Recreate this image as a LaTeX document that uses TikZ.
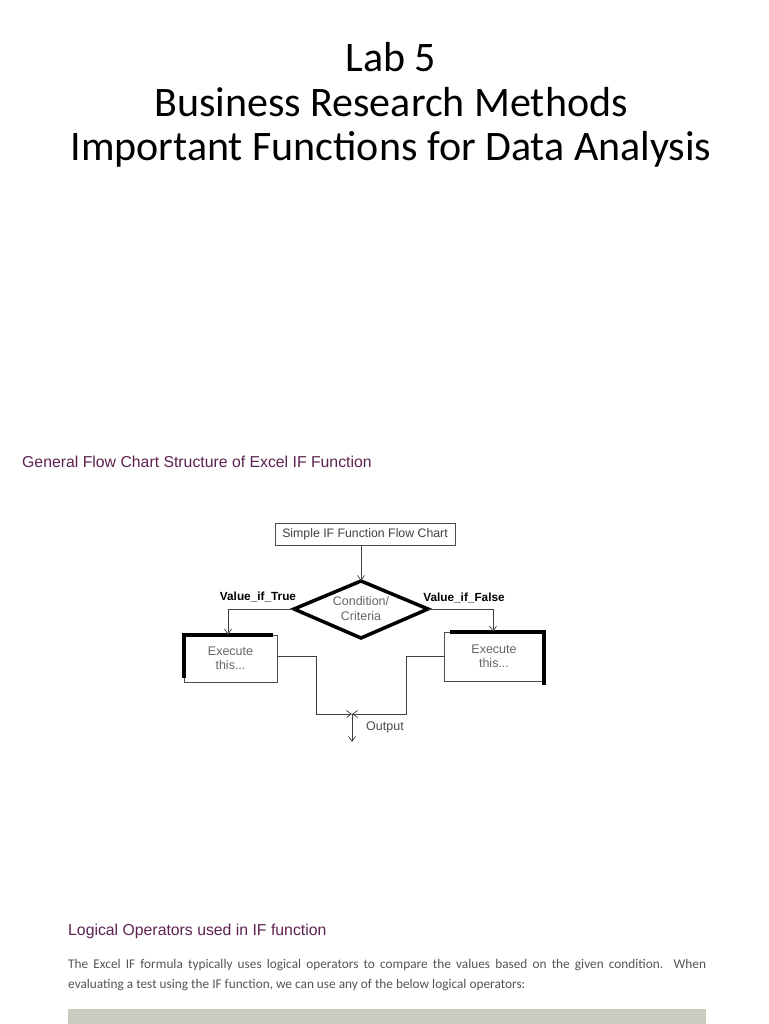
\documentclass[tikz,border=0pt]{standalone}
\usepackage{fontspec}
\setmainfont{Carlito}
\newfontfamily\arial{Liberation Sans}
\usetikzlibrary{arrows.meta}
\definecolor{plum}{HTML}{5E2250}
\definecolor{txtgray}{HTML}{555555}
\definecolor{band}{HTML}{C8CCBF}
\tikzset{
  title/.style={font=\fontsize{42}{48}\selectfont, anchor=center},
  thin/.style={draw=black!75, line width=0.7pt},
  arr/.style={thin, -{Straight Barb[length=5pt,width=7pt]}},
  box/.style={draw=black!70, line width=0.7pt, fill=white, font=\arial\fontsize{12.5}{14}\selectfont, text=black!60, align=center},
  lbl/.style={font=\arial\bfseries\fontsize{11.8}{13}\selectfont},
}
\begin{document}
\begin{tikzpicture}[x=1pt,y=-1pt]
\useasboundingbox (0,0) rectangle (768,1024);
\fill[white] (0,0) rectangle (768,1024);
\node[title] (t1) at (391,57) {Lab 5};
\node[title] (t2) at (391,102) {Business Research Methods};
\node[title] (t3) at (391,149) {Important Functions for Data Analysis};
\node[anchor=west, text=plum, font=\arial\fontsize{15.8}{18}\selectfont, inner sep=0] (h1) at (22,462) {General Flow Chart Structure of Excel IF Function};
% flowchart
\node[box, minimum width=180pt, minimum height=22pt, inner sep=0, text=black!75, font=\arial\fontsize{12.3}{14}\selectfont] (top) at (365,534) {Simple IF Function Flow Chart};
\coordinate (dt) at (361,581);
\coordinate (dl) at (294,609);
\coordinate (dr) at (428,609);
\coordinate (db) at (361,638);
\draw[line width=3.5pt, line join=miter, fill=white] (dt) -- (dr) -- (db) -- (dl) -- cycle;
\node[font=\arial\fontsize{12.5}{15}\selectfont, text=black!60, align=center] (dc) at (361,609) {Condition/\\Criteria};
\draw[arr] (top.south -| dt) -- (dt);
\node[box, minimum width=93pt, minimum height=47pt, inner sep=0] (lb) at (230.5,658.5) {Execute\\this...};
\node[box, minimum width=100pt, minimum height=49pt, inner sep=0] (rb) at (494,656.5) {Execute\\this...};
\draw[line width=4pt] (lb.south west) ++(0,-4) -- (lb.north west) -- ([xshift=-4pt]lb.north east);
\draw[line width=4pt] ([xshift=6pt]rb.north west) -- (rb.north east) -- ([yshift=-4pt]rb.south east);
\node[lbl, anchor=center] (vt) at (258,597) {Value\_if\_True};
\node[lbl, anchor=center] (vf) at (464,598) {Value\_if\_False};
\draw[arr] (dl) -| (lb.north -| 228,0);
\draw[arr] (dr) -| (rb.north -| 493,0);
\coordinate (j) at (352,714);
\draw[arr] (lb.east |- 0,656) -| (316,714) -- (j);
\draw[arr] (rb.west |- 0,656) -| (406,714) -- (j);
\coordinate (oe) at (352,742);
\draw[arr] (j) -- (oe);
\node[anchor=west, font=\arial\fontsize{12.5}{14}\selectfont, text=black!70, inner sep=0] (out) at (366,727) {Output};
% bottom
\node[anchor=west, text=plum, font=\arial\fontsize{15.8}{18}\selectfont, inner sep=0] (h2) at (68,931) {Logical Operators used in IF function};
\node[anchor=north west, text width=638pt, inner sep=0, text=txtgray, font=\fontsize{13.3}{20}\selectfont, align=justify] (para) at (68,959) {The Excel IF formula typically uses logical operators to compare the values based on the given condition. When\linebreak evaluating a test using the IF function, we can use any of the below logical operators:};
\fill[band] (68,1009) rectangle (706,1024);
\end{tikzpicture}
\end{document}
